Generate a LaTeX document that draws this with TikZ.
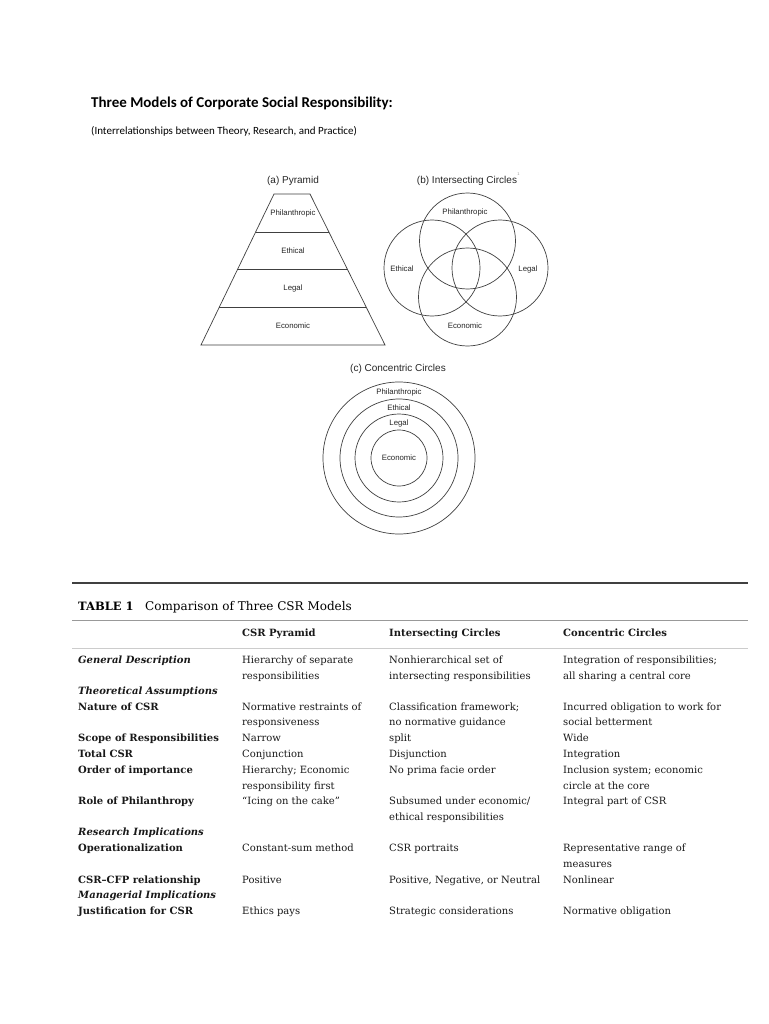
\documentclass[tikz,border=0pt]{standalone}
\usepackage{fontspec}
\setmainfont{DejaVu Serif}
\newfontfamily\titlefont{Carlito}
\newfontfamily\figfont{Liberation Sans}
\usetikzlibrary{calc}
\begin{document}
\begin{tikzpicture}
   [x=1pt,y=-1pt,
   figline/.style={black!75,line width=.7pt},
   ring/.style={figline,draw,circle,inner sep=0pt},
   figlabel/.style={font=\figfont\fontsize{7.8}{9}\selectfont,inner sep=0pt,black!85},
   figcaption/.style={font=\figfont\fontsize{10}{12}\selectfont,inner sep=0pt,black!85},
   cell/.style={anchor=west,inner sep=0pt,text height=7pt,text depth=2pt,black!90,font=\fontsize{10}{12}\selectfont},
   rowhead/.style={cell,font=\bfseries\fontsize{10}{12}\selectfont},
   sectionhead/.style={cell,font=\bfseries\itshape\fontsize{10}{12}\selectfont}]
    \useasboundingbox[fill=white] (0,0) rectangle (768,1024);
    % title
    \node[anchor=west,inner sep=0pt,font=\titlefont\bfseries\fontsize{15}{18}\selectfont] (title) at (91,103)
      {Three Models of Corporate Social Responsibility:};
    \node[anchor=west,inner sep=0pt,font=\titlefont\fontsize{11}{13}\selectfont] (subtitle) at (91,131)
      {(Interrelationships between Theory, Research, and Practice)};
    % (a) pyramid
    \node[figcaption] (capa) at (293,181) {(a) Pyramid};
    \coordinate (ptl) at (274,194);
    \coordinate (ptr) at (310,194);
    \coordinate (pbl) at (201,345);
    \coordinate (pbr) at (385,345);
    \draw[figline] (ptl) -- (ptr) -- (pbr) -- (pbl) -- cycle;
    \foreach \f in {.2517,.4967,.7483}
      \draw[figline] ($(ptl)!\f!(pbl)$) -- ($(ptr)!\f!(pbr)$);
    \node[figlabel] (pphil) at (293,213) {Philanthropic};
    \node[figlabel] (peth) at (293,251) {Ethical};
    \node[figlabel] (pleg) at (293,288) {Legal};
    \node[figlabel] (peco) at (293,326) {Economic};
    % (b) intersecting circles
    \node[figcaption] (capb) at (467,181) {(b) Intersecting Circles};
    \node[anchor=south west,inner sep=0pt,font=\figfont\fontsize{4}{4}\selectfont,black!40] (capbmark) at (capb.north east) {1};
    \node[ring,minimum size=96pt] (iphil) at (467.5,241) {};
    \node[ring,minimum size=96pt] (ieth) at (432,268) {};
    \node[ring,minimum size=96pt] (ileg) at (500,268) {};
    \node[ring,minimum size=98pt] (ieco) at (467.5,297) {};
    \node[figlabel] (iphill) at (465,212) {Philanthropic};
    \node[figlabel] (iethl) at (402,269) {Ethical};
    \node[figlabel] (ilegl) at (528,269) {Legal};
    \node[figlabel] (iecol) at (465,326) {Economic};
    % (c) concentric circles
    \node[figcaption] (capc) at (398,369) {(c) Concentric Circles};
    \coordinate (cc) at (399,458);
    \foreach \r in {76,59,44,28}
      \draw[figline] (cc) circle (\r);
    \node[figlabel] (cphil) at (399,392) {Philanthropic};
    \node[figlabel] (ceth) at (399,408) {Ethical};
    \node[figlabel] (cleg) at (399,423) {Legal};
    \node[figlabel] (ceco) at (cc) {Economic};
    % table
    \draw[black!75,line width=2.2pt] (72,583) -- (748,583);
    \node[anchor=west,inner sep=0pt,text height=8pt,text depth=2pt,font=\bfseries\fontsize{11.5}{13}\selectfont] (tabno) at (78,607) {TABLE 1};
    \node[anchor=west,inner sep=0pt,text height=8pt,text depth=2pt,font=\fontsize{12}{14}\selectfont] (tabtitle) at (145,607) {Comparison of Three CSR Models};
    \draw[black!40,line width=1pt] (72,620) -- (748,620);
    \node[rowhead] (hpyr) at (242,634) {CSR Pyramid};
    \node[rowhead] (hint) at (389,634) {Intersecting Circles};
    \node[rowhead] (hcon) at (563,634) {Concentric Circles};
    \draw[black!20,line width=.8pt] (72,648) -- (748,648);
    % row heads
    \foreach \y/\t in {661/General Description,692/Theoretical Assumptions,833/Research Implications,896/Managerial Implications}
      \node[sectionhead] (s\y) at (78,\y) {\t};
    \foreach \y/\t in {708/Nature of CSR,739/Scope of Responsibilities,755/Total CSR,771/Order of importance,
                       802/Role of Philanthropy,849/Operationalization,881/CSR–CFP relationship,912/Justification for CSR}
      \node[rowhead] (r\y) at (78,\y) {\t};
    % CSR pyramid column
    \foreach \y/\t in {661/Hierarchy of separate,677/responsibilities,708/Normative restraints of,723/responsiveness,
                       739/Narrow,755/Conjunction,771/Hierarchy; Economic,787/responsibility first,
                       802/“Icing on the cake”,849/Constant-sum method,881/Positive,912/Ethics pays}
      \node[cell] (a\y) at (242,\y) {\t};
    % intersecting circles column
    \foreach \y/\t in {661/Nonhierarchical set of,677/intersecting responsibilities,708/Classification framework;,
                       723/no normative guidance,739/split,755/Disjunction,771/No prima facie order,
                       802/{Subsumed under economic/},818/ethical responsibilities,849/CSR portraits,
                       881/{Positive, Negative, or Neutral},912/Strategic considerations}
      \node[cell] (b\y) at (389,\y) {\t};
    % concentric circles column
    \foreach \y/\t in {661/Integration of responsibilities;,677/all sharing a central core,708/Incurred obligation to work for,
                       723/social betterment,739/Wide,755/Integration,771/Inclusion system; economic,
                       787/circle at the core,802/Integral part of CSR,849/Representative range of,
                       865/measures,881/Nonlinear,912/Normative obligation}
      \node[cell] (c\y) at (563,\y) {\t};
\end{tikzpicture}
\end{document}
